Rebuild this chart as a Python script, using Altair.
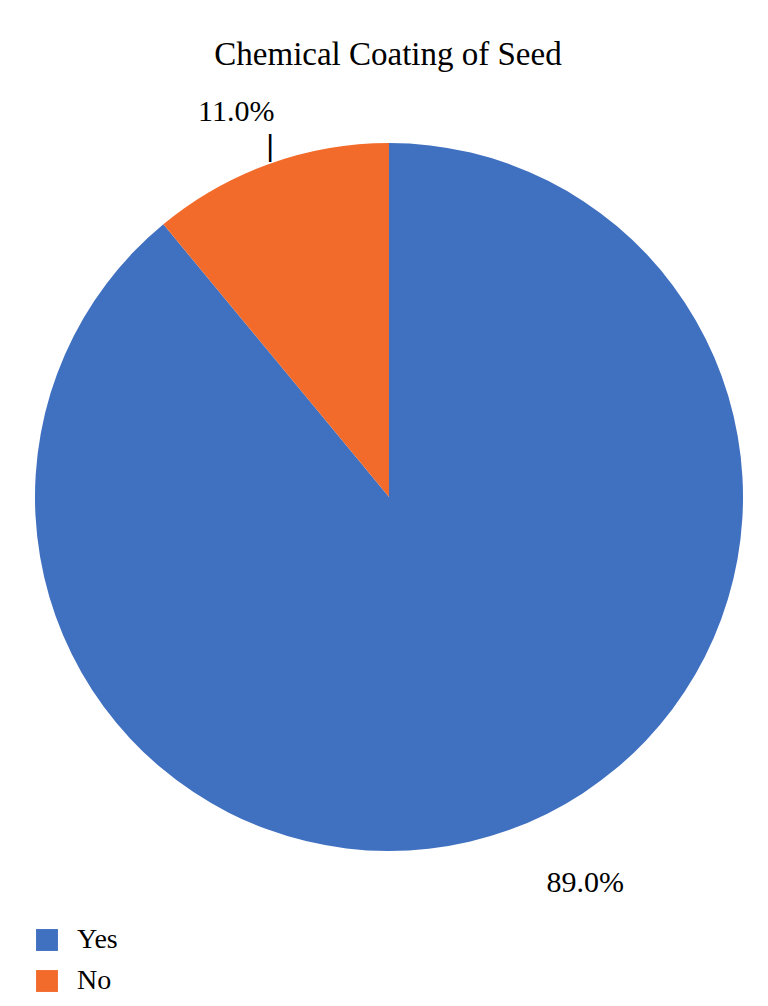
import altair as alt
import pandas as pd

# ---- data ----
categories = ["Yes", "No"]
values = [89.0, 11.0]
labels = ["89.0%", "11.0%"]
ranks = [0, 1]
colors = ["#4070C0", "#F26B2A"]
title_text = "Chemical Coating of Seed"

df = pd.DataFrame({"answer": categories, "pct": values, "label": labels, "rank": ranks})

CX, CY, R = 381, 489, 354
SERIF = "Liberation Serif"

theta_scale = alt.Scale(domain=[0, 100], range=[0, 6.283185307179586])

base = alt.Chart(df).transform_window(
    end="sum(pct)", sort=[alt.SortField("rank")], frame=[None, 0]
).transform_calculate(
    start="datum.end - datum.pct", mid="datum.end - datum.pct / 2"
)

pie = base.mark_arc(outerRadius=R, x=CX, y=CY).encode(
    theta=alt.Theta("start:Q", scale=theta_scale),
    theta2="end:Q",
    color=alt.Color(
        "answer:N",
        scale=alt.Scale(domain=categories, range=colors),
        legend=alt.Legend(
            title=None, orient="none", legendX=25, legendY=918,
            symbolType="square", symbolSize=480, symbolStrokeWidth=0,
            labelFont=SERIF, labelFontSize=28, labelColor="black",
            labelOffset=16, rowPadding=13, padding=0,
        ),
    ),
)

lab_yes = base.transform_filter("datum.answer == 'Yes'").mark_text(
    radius=432, x=CX, y=CY, dx=50, dy=-20, font=SERIF, fontSize=30,
    color="black", align="center", baseline="middle",
).encode(theta=alt.Theta("mid:Q", scale=theta_scale), text="label:N")

lab_no = base.transform_filter("datum.answer == 'No'").mark_text(
    radius=395, x=CX, y=CY, dx=-19, dy=-13, font=SERIF, fontSize=30,
    color="black", align="center", baseline="middle",
).encode(theta=alt.Theta("mid:Q", scale=theta_scale), text="label:N")

leader = base.transform_filter("datum.answer == 'No'").mark_text(
    radius=R, x=CX, y=CY, dx=1, dy=-8, font="Liberation Sans", fontSize=30,
    color="black", align="center", baseline="alphabetic", text="|",
).encode(theta=alt.Theta("mid:Q", scale=theta_scale))

title = alt.Chart(pd.DataFrame({"t": [title_text]})).mark_text(
    x=380, y=57, font=SERIF, fontSize=33, color="black",
    align="center", baseline="alphabetic",
).encode(text="t:N")

chart = alt.layer(pie, leader, lab_yes, lab_no, title).properties(
    width=752, height=990, padding=0, autosize=alt.AutoSizeParams(type="none")
).configure_view(stroke=None)

chart.save("out.html", embed_options={"renderer": "svg", "actions": False})
